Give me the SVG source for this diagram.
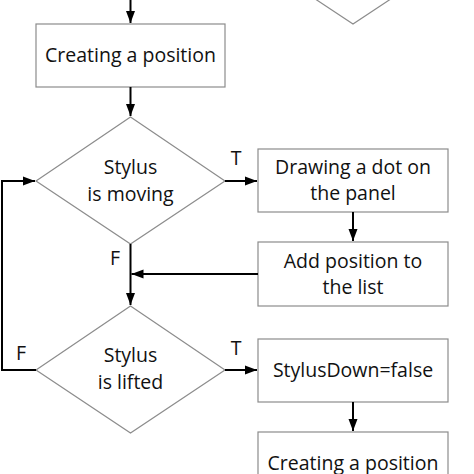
<svg xmlns="http://www.w3.org/2000/svg" width="474" height="474" viewBox="0 0 474 474">
<style>
.n{fill:#fff;stroke:#8c8c8c;stroke-width:1.2}
.t{font-family:"Open Sans","Liberation Sans",sans-serif;font-size:19.5px;fill:#111;text-anchor:middle}
.c{fill:none;stroke:#000;stroke-width:2}
</style>
<defs>
<marker id="a" markerUnits="userSpaceOnUse" markerWidth="13" markerHeight="10" refX="12" refY="5" orient="auto">
<path d="M0,0.5 L12,5 L0,9.5 Z" fill="#000"/>
</marker>
</defs>
<rect width="474" height="474" fill="#fff"/>
<g id="topDiamond"><polygon class="n" points="316,-0.5 353,24 390,-0.5"/></g>
<g id="box1"><rect class="n" x="36" y="24" width="189" height="63"/><text class="t" x="130.5" y="62">Creating a position</text></g>
<g id="dia1"><polygon class="n" points="130.5,117 225,181 130.5,244 36,181"/><text class="t" x="130.5" y="174">Stylus</text><text class="t" x="130.5" y="201">is moving</text></g>
<g id="box2"><rect class="n" x="258" y="149" width="190" height="63"/><text class="t" x="353" y="174">Drawing a dot on</text><text class="t" x="353" y="200">the panel</text></g>
<g id="box3"><rect class="n" x="258" y="242" width="190" height="64"/><text class="t" x="353" y="268">Add position to</text><text class="t" x="353" y="294">the list</text></g>
<g id="dia2"><polygon class="n" points="130.5,306 225,370 130.5,433 36,370"/><text class="t" x="130.5" y="362">Stylus</text><text class="t" x="130.5" y="389">is lifted</text></g>
<g id="box4"><rect class="n" x="258" y="339" width="190" height="63"/><text class="t" x="353" y="377">StylusDown=false</text></g>
<g id="box5"><rect class="n" x="258" y="432" width="190" height="63"/><text class="t" x="353" y="470">Creating a position</text></g>
<g id="connectors">
<path class="c" d="M130.5,0 V23" marker-end="url(#a)"/>
<path class="c" d="M130.5,87 V116" marker-end="url(#a)"/>
<path class="c" d="M225,181 H257" marker-end="url(#a)"/>
<path class="c" d="M353,212 V241" marker-end="url(#a)"/>
<path class="c" d="M130.5,244 V305" marker-end="url(#a)"/>
<path class="c" d="M258,274 H131.5" marker-end="url(#a)"/>
<path class="c" d="M225,370 H257" marker-end="url(#a)"/>
<path class="c" d="M353,402 V431" marker-end="url(#a)"/>
<path class="c" d="M36,370 H2 V181 H35" marker-end="url(#a)"/>
<text class="t" x="236" y="165">T</text>
<text class="t" x="115" y="265">F</text>
<text class="t" x="236" y="355">T</text>
<text class="t" x="21" y="360">F</text>
</g>
</svg>
